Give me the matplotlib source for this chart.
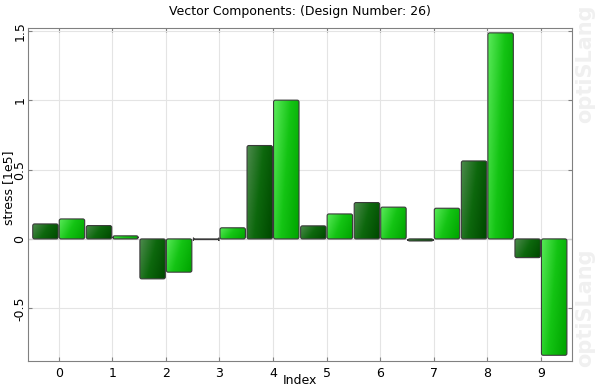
import numpy as np
import matplotlib
matplotlib.use("Agg")
import matplotlib.pyplot as plt
from matplotlib.patches import FancyBboxPatch
from matplotlib.colors import LinearSegmentedColormap

# values in units of 1e5
index = [0, 1, 2, 3, 4, 5, 6, 7, 8, 9]
series_a = [0.108, 0.096, -0.288, -0.005, 0.673, 0.094, 0.262, -0.015, 0.562, -0.135]
series_b = [0.144, 0.022, -0.240, 0.080, 1.000, 0.180, 0.229, 0.221, 1.485, -0.839]

cmap_a = LinearSegmentedColormap.from_list("a", ["#4d8a4d", "#0d680d", "#004a00"])
cmap_b = LinearSegmentedColormap.from_list("b", ["#5aea5a", "#14c414", "#00a600"])

plt.rcParams['font.family'] = ['DejaVu Sans']
fig = plt.figure(figsize=(6, 3.89), dpi=100)
ax = fig.add_axes([28 / 600, 1 - 361 / 389, 544 / 600, 333 / 389])

grad_x = np.linspace(0, 1, 64)
grad_y = np.linspace(0, 1, 64)
gx, gy = np.meshgrid(grad_x, grad_y)
# light at top-left, dark towards the right and bottom
grad = np.clip(0.75 * gx + 0.3 * (1 - gy), 0, 1)

width = 0.475
yx_ratio = (1 / 138.7) / (1 / 53.6)


def gradient_bars(xs, vals, cmap):
    bars = ax.bar(xs, vals, width=width, align='edge', color='none', edgecolor='none')
    for b in bars:
        x0, y0 = b.get_x(), b.get_y()
        w, h = b.get_width(), b.get_height()
        if h < 0:
            y0, h = y0 + h, -h
        h = max(h, 0.004)
        patch = FancyBboxPatch((x0, y0), w, h,
                               boxstyle="round,pad=0,rounding_size=0.035",
                               mutation_aspect=yx_ratio,
                               facecolor='none', edgecolor='#3a3a3a', linewidth=0.8, zorder=3)
        ax.add_patch(patch)
        im = ax.imshow(grad, cmap=cmap, extent=(x0, x0 + w, y0, y0 + h),
                       origin='lower', aspect='auto', zorder=2, interpolation='bilinear')
        im.set_clip_path(patch)


gradient_bars([i - width - 0.01 for i in index], series_a, cmap_a)
gradient_bars([i + 0.01 for i in index], series_b, cmap_b)

ax.set_xlim(-0.573, 9.58)
ax.set_ylim(-0.88, 1.52)

ax.set_xticks(index)
ax.set_yticks([-0.5, 0, 0.5, 1, 1.5])
ax.set_yticklabels(['-0.5', '0', '0.5', '1', '1.5'], rotation=90, va='center')
ax.grid(True, color='#e4e4e4', linewidth=0.8, zorder=0)
ax.set_axisbelow(True)
ax.axhline(0, color='#d0d0d0', linewidth=0.8, zorder=1)

for s in ax.spines.values():
    s.set_color('#808080')
ax.tick_params(direction='in', length=3, color='#808080', labelsize=9,
               top=True, right=True, labeltop=False, labelright=False)
ax.tick_params(axis='y', pad=1)
ax.tick_params(axis='x', pad=4)

ax.set_xlabel('Index', fontsize=9, va='center')
ax.set_ylabel('stress [1e5]', fontsize=9, va='center')
ax.xaxis.set_label_coords(0.5, -0.06)
ax.yaxis.set_label_coords(-0.036, 0.52)
ax.set_title('Vector Components: (Design Number: 26)', fontsize=9, pad=9)

for yy in [0.835, 0.21]:
    fig.text(0.975, yy, 'optiSLang', rotation=90, fontsize=15, fontweight='bold',
             color='#f0f0f0', ha='center', va='center')

fig.savefig('out.png', dpi=100)
